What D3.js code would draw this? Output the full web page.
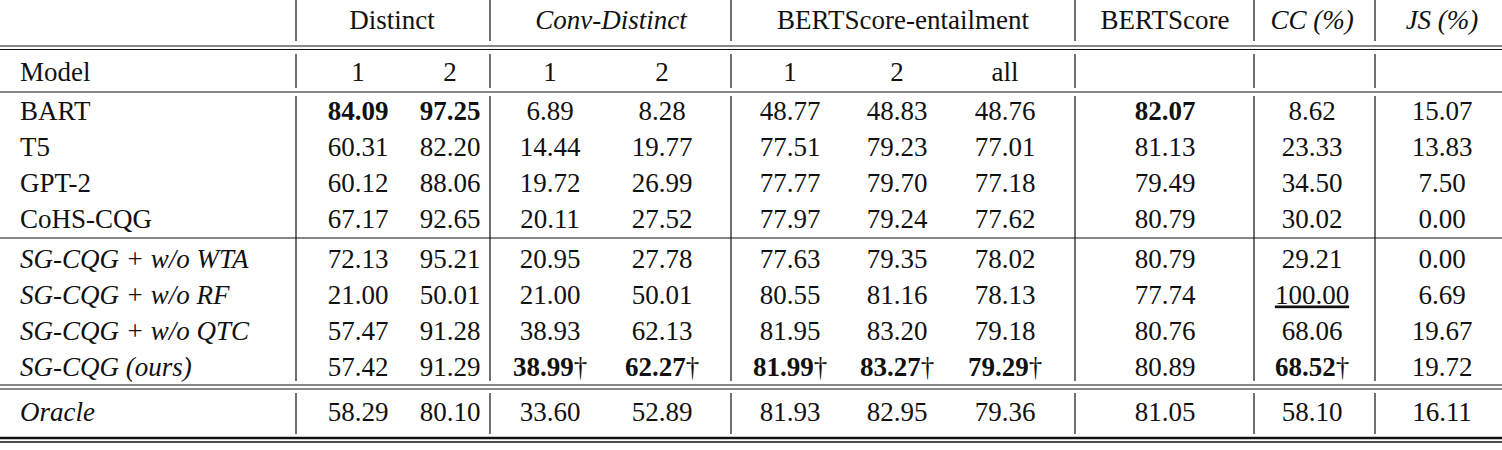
<!DOCTYPE html>
<html><head><meta charset="utf-8">
<script src="https://cdn.jsdelivr.net/npm/d3@7"></script>
<style>
body{margin:0;background:#fff}
svg text{font-family:'Liberation Serif','Times New Roman',Tinos,'DejaVu Serif',serif;font-size:27px;fill:#111}
</style>
</head><body>
<svg id="t" width="1502" height="450"></svg>
<script>
const groups = [
  {name: "Distinct", italic: false, x: 392},
  {name: "Conv-Distinct", italic: true, x: 611},
  {name: "BERTScore-entailment", italic: false, x: 903},
  {name: "BERTScore", italic: false, x: 1165},
  {name: "CC (%)", italic: true, x: 1312},
  {name: "JS (%)", italic: true, x: 1442}
]
const subHeads = ["1", "2", "1", "2", "1", "2", "all", "", "", ""]
const colX = [358, 450, 550, 662, 790, 897, 1005, 1165, 1312, 1442]
const models = ["BART", "T5", "GPT-2", "CoHS-CQG", "SG-CQG + w/o WTA", "SG-CQG + w/o RF",
  "SG-CQG + w/o QTC", "SG-CQG (ours)", "Oracle"]
const italicModel = [false, false, false, false, true, true, true, true, true]
const values = [
  ["84.09", "97.25", "6.89", "8.28", "48.77", "48.83", "48.76", "82.07", "8.62", "15.07"],
  ["60.31", "82.20", "14.44", "19.77", "77.51", "79.23", "77.01", "81.13", "23.33", "13.83"],
  ["60.12", "88.06", "19.72", "26.99", "77.77", "79.70", "77.18", "79.49", "34.50", "7.50"],
  ["67.17", "92.65", "20.11", "27.52", "77.97", "79.24", "77.62", "80.79", "30.02", "0.00"],
  ["72.13", "95.21", "20.95", "27.78", "77.63", "79.35", "78.02", "80.79", "29.21", "0.00"],
  ["21.00", "50.01", "21.00", "50.01", "80.55", "81.16", "78.13", "77.74", "100.00", "6.69"],
  ["57.47", "91.28", "38.93", "62.13", "81.95", "83.20", "79.18", "80.76", "68.06", "19.67"],
  ["57.42", "91.29", "38.99", "62.27", "81.99", "83.27", "79.29", "80.89", "68.52", "19.72"],
  ["58.29", "80.10", "33.60", "52.89", "81.93", "82.95", "79.36", "81.05", "58.10", "16.11"]
]
// bold cells [row, col]; dagger cells; underlined cells
const bold = [[0,0],[0,1],[0,7],[7,2],[7,3],[7,4],[7,5],[7,6],[7,8]]
const dagger = [[7,2],[7,3],[7,4],[7,5],[7,6],[7,8]]
const underline = [[5,8]]
const vLines = [296, 490, 731, 1075, 1254, 1375]

const has = (list, r, c) => list.some(d => d[0] === r && d[1] === c)
const rowY = d3.scaleLinear().domain([0, 1]).range([111, 147])
const yOf = i => i < 4 ? rowY(i) : i < 8 ? rowY(i) + 3.5 : rowY(i) + 13

const svg = d3.select('#t')

const line = (x1, y1, x2, y2, w) => svg.append('line')
  .attr('x1', x1).attr('y1', y1).attr('x2', x2).attr('y2', y2)
  .attr('stroke', '#111').attr('stroke-width', w || 1.2)

// horizontal rules
line(0, 46, 1502, 46); line(0, 49.5, 1502, 49.5)
line(0, 92, 1502, 92)
line(0, 238, 1502, 238)
line(0, 385, 1502, 385); line(0, 389, 1502, 389)
line(0, 438, 1502, 438, 2.5); line(0, 442, 1502, 442, 1.5)

// vertical rules
vLines.forEach(x => {
  line(x, 0, x, 41); line(x, 54, x, 88); line(x, 96, x, 381); line(x, 393, x, 434)
})

svg.selectAll('.g').data(groups).join('text')
  .attr('x', d => d.x).attr('y', 29).attr('text-anchor', 'middle')
  .style('font-style', d => d.italic ? 'italic' : 'normal')
  .text(d => d.name)

svg.append('text').attr('x', 20).attr('y', 81).text('Model')
svg.selectAll('.s').data(subHeads).join('text')
  .attr('x', (d, i) => colX[i]).attr('y', 81).attr('text-anchor', 'middle').text(d => d)

models.forEach((m, r) => {
  const y = yOf(r) + 9
  svg.append('text').attr('x', 20).attr('y', y)
    .style('font-style', italicModel[r] ? 'italic' : 'normal').text(m)
  values[r].forEach((v, c) => {
    const t = svg.append('text').attr('x', colX[c]).attr('y', y).attr('text-anchor', 'middle')
    const s = t.append('tspan').text(v)
    if (has(bold, r, c)) s.style('font-weight', 'bold')
    if (has(dagger, r, c)) t.append('tspan').text('†')
    if (has(underline, r, c)) s.attr('text-decoration', 'underline')
  })
})
</script>
</body></html>
